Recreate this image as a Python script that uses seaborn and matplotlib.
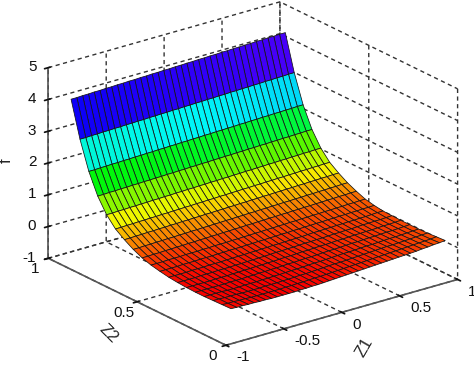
import numpy as np
import matplotlib
matplotlib.use("Agg")
import matplotlib.pyplot as plt
import seaborn as sns

# values, f is in hundredths
z1 = [-0.88, -0.83, -0.78, -0.73, -0.68, -0.63, -0.58, -0.53, -0.48, -0.43, -0.38, -0.33, -0.28,
      -0.23, -0.18, -0.13, -0.08, -0.03, 0.02, 0.07, 0.12, 0.17, 0.22, 0.27, 0.32, 0.37, 0.42,
      0.47, 0.52, 0.57, 0.62, 0.67, 0.72, 0.77, 0.82, 0.87, 0.92, 0.97]
z2 = [0.05, 0.10, 0.15, 0.20, 0.25, 0.30, 0.35, 0.40, 0.45, 0.50,
      0.55, 0.60, 0.65, 0.70, 0.75, 0.80, 0.85, 0.90, 0.95]

f_05 = [-11,-12,-12,-13,-13,-14,-14,-15,-15,-15,-15,-15,-14,-14,-13,-13,-12,-11,-10,-9,-8,-7,-6,-5,-4,-3,-2,-1,0,1,2,3,4,6,7,9,10,12]
f_10 = [-12,-13,-13,-14,-14,-15,-15,-15,-15,-15,-15,-14,-14,-13,-13,-12,-11,-11,-10,-9,-8,-7,-6,-5,-4,-3,-2,-1,0,1,2,3,4,5,6,7,8,10]
f_15 = [-13,-13,-14,-14,-14,-15,-15,-15,-15,-14,-14,-14,-13,-13,-12,-11,-11,-10,-9,-8,-7,-6,-6,-5,-4,-3,-2,-1,0,1,2,2,3,4,5,6,7,8]
f_20 = [-14,-14,-14,-14,-15,-15,-15,-14,-14,-14,-13,-13,-12,-12,-11,-10,-10,-9,-8,-7,-7,-6,-5,-4,-3,-3,-2,-1,0,0,1,2,3,3,4,5,6,7]
f_25 = [-14,-14,-14,-14,-14,-14,-13,-13,-13,-12,-12,-11,-11,-10,-10,-9,-8,-8,-7,-6,-6,-5,-4,-3,-3,-2,-1,0,0,1,2,2,3,4,4,5,6,7]
f_30 = [-13,-13,-13,-13,-13,-12,-12,-12,-11,-11,-10,-10,-9,-9,-8,-8,-7,-6,-6,-5,-4,-4,-3,-2,-2,-1,0,0,1,2,2,3,3,4,5,5,6,7]
f_35 = [-11,-11,-11,-11,-10,-10,-10,-9,-9,-9,-8,-8,-7,-7,-6,-6,-5,-4,-4,-3,-3,-2,-1,-1,0,0,1,2,2,3,3,4,5,5,6,6,7,8]
f_40 = [-8,-8,-8,-8,-7,-7,-7,-6,-6,-6,-5,-5,-4,-4,-3,-3,-2,-2,-1,-1,0,0,1,1,2,3,3,4,4,5,5,6,6,7,7,8,9,9]
f_45 = [-3,-3,-3,-3,-2,-2,-2,-1,-1,-1,0,0,1,1,1,2,2,3,3,4,4,5,5,6,6,7,7,8,8,9,9,10,10,11,11,12,12,13]
f_50 = [3,3,3,4,4,4,5,5,5,6,6,7,7,7,8,8,9,9,10,10,11,11,12,12,13,13,14,14,15,15,16,16,17,17,18,18,19,19]
f_55 = [12,12,13,13,14,14,15,15,16,16,17,17,18,18,19,19,20,20,21,21,22,22,23,23,24,24,25,25,26,26,27,27,28,28,29,29,30,30]
f_60 = [25,25,26,26,27,27,28,28,29,29,30,30,31,31,32,32,33,33,34,34,35,35,36,36,37,37,38,38,39,39,40,40,41,41,42,42,43,43]
f_65 = [42,42,43,43,44,44,45,45,46,46,47,47,48,48,49,49,50,50,51,51,52,52,53,53,54,54,55,55,56,56,57,57,58,58,59,59,60,60]
f_70 = [62,62,63,63,64,64,65,65,66,66,67,67,68,68,69,69,70,70,71,71,72,72,73,73,74,74,75,75,76,76,77,77,78,78,79,79,80,80]
f_75 = [93,93,94,94,95,95,96,96,97,97,98,98,99,99,100,100,101,101,102,102,103,103,104,104,105,105,106,106,107,107,108,108,109,109,110,110,111,111]
f_80 = [138,138,139,139,140,140,141,141,142,142,143,143,144,144,145,145,146,146,147,147,148,148,149,149,150,150,151,151,152,152,153,153,154,154,155,155,156,156]
f_85 = [202,202,203,203,204,204,205,205,206,206,207,207,208,208,209,209,210,210,211,211,212,212,213,213,214,214,215,215,216,216,217,217,218,218,219,219,220,220]
f_90 = [290,290,291,291,292,292,293,293,294,294,295,295,296,296,297,297,298,298,299,299,300,300,301,301,302,302,303,303,304,304,305,305,306,306,307,307,308,308]
f_95 = [402,402,403,403,404,404,405,405,406,406,407,407,408,408,409,409,410,410,411,411,412,412,413,413,414,414,415,415,416,416,417,417,418,418,419,419,420,420]

z1_ticks = [-1, -0.5, 0, 0.5, 1]
z2_ticks = [0, 0.5, 1]
f_ticks = [-1, 0, 1, 2, 3, 4, 5]

sns.set_theme(style="white")
plt.rcParams["font.family"] = ["Liberation Sans", "DejaVu Sans"]

F = np.array([f_05, f_10, f_15, f_20, f_25, f_30, f_35, f_40, f_45, f_50,
              f_55, f_60, f_65, f_70, f_75, f_80, f_85, f_90, f_95]) / 100
X, Y = np.meshgrid(z1, z2)

cmap = sns.color_palette("hsv", as_cmap=True)
colors = cmap(plt.Normalize(-0.15, 4.3)(F))
colors[..., :3] *= 0.97

fig = plt.figure(figsize=(4.74, 3.66), dpi=100)
ax = fig.add_axes([11 / 474, 4.5 / 366, 1, 1], projection="3d", proj_type="ortho")
ax.view_init(elev=21.9, azim=232.7)
ax.set_box_aspect((292, 294, 206), zoom=1.224)

surf = ax.plot_surface(X, Y, F, rstride=1, cstride=1, facecolors=colors, shade=False,
                       edgecolor="#151515", linewidth=0.55, antialiased=True)
surf.set_clip_on(False)  # the 3d axes box is narrower than the surface

ax.set_xlim(-1, 1)
ax.set_ylim(0, 1)
ax.set_zlim(-1, 5)
ax.set_xticks(z1_ticks)
ax.set_yticks(z2_ticks)
ax.set_zticks(f_ticks)
ax.set_xticklabels(["-1", "-0.5", "0", "0.5", "1"])
ax.set_yticklabels(["0", "0.5", "1"])
ax.set_zticklabels([str(t) for t in f_ticks])
ax.tick_params(labelsize=11, colors="#111111", pad=0)
ax.zaxis.set_tick_params(pad=-4)

for lab in ax.get_xticklabels():
    lab.set_ha("left")
    lab.set_va("baseline")
for lab in ax.get_yticklabels():
    lab.set_va("baseline")
for lab in ax.get_zticklabels():
    lab.set_ha("right")
    lab.set_va("center")

for axis in (ax.xaxis, ax.yaxis, ax.zaxis):
    axis.set_pane_color((1, 1, 1, 1))
    axis.pane.set_edgecolor((1, 1, 1, 0))
    axis.line.set_color("#555555")
    axis.line.set_linewidth(1.2)
    axis.set_rotate_label(False)
    axis._axinfo["grid"].update(color="#333333", linestyle=(0, (3, 2.5)), linewidth=1.0)
    axis._axinfo["tick"].update(color="#333333")
ax.grid(True)

ax.set_xlabel("Z1", rotation=60, fontsize=12, labelpad=-3.5)
ax.set_ylabel("Z2", rotation=-45, fontsize=12, labelpad=-4)
ax.set_zlabel("f", rotation=90, fontsize=12, labelpad=-7)

fig.savefig("out.png", dpi=100)
